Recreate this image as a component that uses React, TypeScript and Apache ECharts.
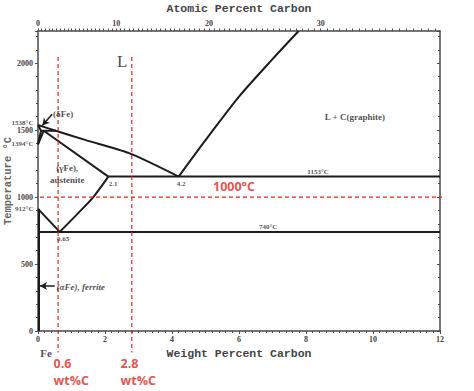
import React, { useEffect, useRef } from "react";
import * as echarts from "echarts";

// ---- Axis definitions ----
const weightMin = 0;
const weightMax = 12;
const weightInterval = 2;
const tempMin = 0;
const tempMax = 2240;
const tempInterval = 500;
const atomicLabels = [0, 10, 20, 30];
const atomicMinorStep = 0.5;
const atomicMaxTick = 38.5;

// ---- Phase boundaries [wt% C, °C] ----
const liquidusLeft = [[0, 1538], [0.53, 1495], [1.43, 1425], [2.72, 1328], [4.2, 1153]];
const liquidusRight = [[4.2, 1153], [5.0, 1425], [6.0, 1750], [7.0, 2030], [7.78, 2240]];
const eutecticLine = [[2.1, 1153], [12, 1153]];
const austeniteSolidus = [[0.17, 1495], [2.1, 1153]];
const acmLine = [[0.65, 740], [1.2, 880], [1.65, 1000], [2.1, 1153]];
const a3Line = [[0, 912], [0.65, 740]];
const eutectoidLine = [[0, 740], [12, 740]];
const ferriteLine = [[0.03, 0], [0.03, 912]];
const peritecticLine = [[0.09, 1495], [0.53, 1495]];
const deltaSolidus = [[0, 1538], [0.09, 1495]];
const deltaGammaLine = [[0, 1394], [0.09, 1495]];
const gammaDeltaLine = [[0, 1394], [0.17, 1495]];

// ---- Red marker lines ----
const markerCompositions = [0.6, 2.8];
const markerTopTemp = 2045;
const markerBottomTemp = -160;
const markerTemperature = 1000;
const markerLeftWt = -0.15;
const markerRightWt = 12.15;

// ---- Arrows ----
const deltaArrow = [[0.42, 1619], [0.13, 1535]];
const ferriteArrow = [[0.5, 336], [0.06, 336]];

// ---- Annotations ----
const centerLabels = [
  { text: "L", at: [2.51, 2015], size: 17, weight: "normal" },
  { text: "L + C(graphite)", at: [9.46, 1596], size: 9, weight: "bold" },
  { text: "(δFe)", at: [0.75, 1619], size: 9, weight: "bold" },
  { text: "(γFe),\naustenite", at: [0.87, 1171], size: 9, weight: "bold" },
  { text: "2.1", at: [2.24, 1097], size: 7, weight: "bold" },
  { text: "4.2", at: [4.27, 1097], size: 7, weight: "bold" },
  { text: "0.65", at: [0.75, 686], size: 7, weight: "bold" },
  { text: "1153°C", at: [8.36, 1186], size: 7, weight: "bold" },
  { text: "740°C", at: [6.87, 776], size: 7, weight: "bold" },
  { text: "Fe", at: [0.24, -164], size: 11, weight: "bold" },
];
const leftLabels = [
  { text: "1538°C", at: [-0.12, 1552] },
  { text: "1394°C", at: [-0.12, 1395] },
  { text: "912°C", at: [-0.12, 910] },
];
const ferriteLabel = { text: "(αFe), ferrite", at: [0.54, 330] };
const redLabels = [
  { text: "1000°C", at: [5.85, 1082], align: "center" },
  { text: "0.6\nwt%C", at: [0.45, -309], align: "left" },
  { text: "2.8\nwt%C", at: [2.45, -309], align: "left" },
];

const RED = "#e0261d";
const INK = "#1c1c1c";
const AXIS = "#4a4a4a";

function atomicToWeight(a: number) {
  const c = a * 12.011;
  return (100 * c) / (c + (100 - a) * 55.845);
}

export default function App() {
  const ref = useRef<HTMLDivElement>(null);
  useEffect(() => {
    if (!ref.current) return;
    const chart = echarts.init(ref.current, undefined, { renderer: "svg" });

    const atomicTickValues: number[] = [];
    for (let a = 0; a <= atomicMaxTick; a += atomicMinorStep) atomicTickValues.push(atomicToWeight(a));
    const atomicLabelValues = atomicLabels.map(atomicToWeight);

    const boundaries = [
      liquidusLeft, liquidusRight, eutecticLine, austeniteSolidus, acmLine, a3Line,
      eutectoidLine, ferriteLine, peritecticLine, deltaSolidus, deltaGammaLine, gammaDeltaLine,
    ];
    const curved = new Set([liquidusLeft, liquidusRight, acmLine]);

    const series: any[] = boundaries.map((d) => ({
      type: "line",
      data: d,
      symbol: "none",
      smooth: curved.has(d) ? 0.25 : false,
      lineStyle: { color: INK, width: 2 },
      silent: true,
      clip: false,
      z: 3,
    }));

    markerCompositions.forEach((w) => {
      series.push({
        type: "line",
        data: [[w, markerTopTemp], [w, markerBottomTemp]],
        symbol: "none",
        lineStyle: { color: RED, width: 1.2, type: [4, 3] },
        clip: false,
        silent: true,
        z: 4,
      });
    });
    series.push({
      type: "line",
      data: [[markerLeftWt, markerTemperature], [markerRightWt, markerTemperature]],
      symbol: "none",
      lineStyle: { color: RED, width: 1.2, type: [4, 3] },
      clip: false,
      silent: true,
      z: 4,
    });

    [deltaArrow, ferriteArrow].forEach((arr) => {
      series.push({
        type: "line",
        data: [],
        markLine: {
          silent: true,
          symbol: ["none", "arrow"],
          symbolSize: [6, 7],
          label: { show: false },
          lineStyle: { color: INK, width: 1.5, type: "solid" },
          data: [[{ coord: arr[0] }, { coord: arr[1] }]],
        },
      });
    });

    const serif = "Liberation Serif";
    const blank = { symbolSize: 1, itemStyle: { color: "rgba(0,0,0,0)" } };
    series.push({
      type: "scatter",
      clip: false,
      silent: true,
      ...blank,
      z: 6,
      data: centerLabels.map((l) => ({
        value: l.at,
        label: {
          show: true,
          position: "inside",
          formatter: l.text,
          fontFamily: serif,
          fontSize: l.size,
          fontWeight: l.weight,
          lineHeight: l.size + 3,
          color: INK,
        },
      })),
    });
    series.push({
      type: "scatter",
      clip: false,
      silent: true,
      ...blank,
      z: 6,
      data: leftLabels.map((l) => ({
        value: l.at,
        label: {
          show: true,
          position: "left",
          distance: 0,
          formatter: l.text,
          fontFamily: serif,
          fontSize: 7,
          fontWeight: "bold",
          color: INK,
        },
      })).concat([{
        value: ferriteLabel.at,
        label: {
          show: true,
          position: "right",
          distance: 0,
          formatter: ferriteLabel.text,
          fontFamily: serif,
          fontSize: 9,
          fontWeight: "bold",
          fontStyle: "italic",
          color: INK,
        },
      } as any]),
    });
    series.push({
      type: "scatter",
      clip: false,
      silent: true,
      ...blank,
      z: 6,
      data: redLabels.map((l) => ({
        value: l.at,
        label: {
          show: true,
          position: l.align === "left" ? "right" : "inside",
          distance: 0,
          formatter: l.text,
          fontFamily: "Open Sans",
          fontSize: 12.5,
          fontWeight: "bold",
          lineHeight: 17,
          color: RED,
        },
      })),
    });

    const tickLabelStyle = {
      fontFamily: serif,
      fontSize: 8,
      fontWeight: "bold",
      color: "#444",
    };
    const nameStyle = {
      fontFamily: "Liberation Mono",
      fontSize: 11.5,
      fontWeight: "bold",
      color: "#444",
    };
    const line = { show: true, onZero: false, lineStyle: { color: AXIS, width: 1.5 } };
    const tick = { show: true, length: 3, lineStyle: { color: AXIS } };

    chart.setOption({
      animation: false,
      backgroundColor: "#ffffff",
      grid: { left: 38, right: 34, top: 31, bottom: 60, containLabel: false, outerBoundsMode: "none" },
      xAxis: [
        {
          type: "value",
          position: "bottom",
          min: weightMin,
          max: weightMax,
          interval: weightInterval,
          name: "Weight Percent Carbon",
          nameLocation: "middle",
          nameGap: 16,
          nameTextStyle: nameStyle,
          axisLine: line,
          axisTick: tick,
          minorTick: { show: true, splitNumber: 10, length: 2, lineStyle: { color: AXIS } },
          splitLine: { show: false },
          axisLabel: { ...tickLabelStyle, margin: 4, formatter: (v: number) => String(v) },
        },
        {
          type: "value",
          position: "top",
          min: weightMin,
          max: weightMax,
          name: "Atomic Percent Carbon",
          nameLocation: "middle",
          nameGap: 17,
          nameTextStyle: nameStyle,
          axisLine: line,
          axisTick: { show: true, length: 2.5, customValues: atomicTickValues, lineStyle: { color: AXIS } },
          splitLine: { show: false },
          axisLabel: {
            ...tickLabelStyle,
            margin: 4,
            customValues: atomicLabelValues,
            formatter: (v: number) => {
              let best = 0;
              let bd = Infinity;
              atomicLabels.forEach((a, i) => {
                const d = Math.abs(atomicLabelValues[i] - v);
                if (d < bd) { bd = d; best = a; }
              });
              return String(best);
            },
          },
        },
      ],
      yAxis: [
        {
          type: "value",
          position: "left",
          min: tempMin,
          max: tempMax,
          interval: tempInterval,
          name: "Temperature °C",
          nameLocation: "middle",
          nameGap: 25,
          nameMoveOverlap: false,
          nameTextStyle: { ...nameStyle, fontSize: 10.5, color: "#666" },
          axisLine: line,
          axisTick: tick,
          minorTick: { show: true, splitNumber: 5, length: 2, lineStyle: { color: AXIS } },
          splitLine: { show: false },
          axisLabel: { ...tickLabelStyle, margin: 5, showMaxLabel: false, formatter: (v: number) => String(v) },
        },
        {
          type: "value",
          position: "right",
          min: tempMin,
          max: tempMax,
          interval: tempInterval,
          axisLine: line,
          axisTick: { ...tick, inside: true },
          minorTick: { show: true, splitNumber: 5, length: 2, lineStyle: { color: AXIS } },
          splitLine: { show: false },
          axisLabel: { show: false },
        },
      ],
      series,
    });

    return () => chart.dispose();
  }, []);

  return <div ref={ref} style={{ width: 474, height: 391, position: "absolute", left: 0, top: 0 }} />;
}
